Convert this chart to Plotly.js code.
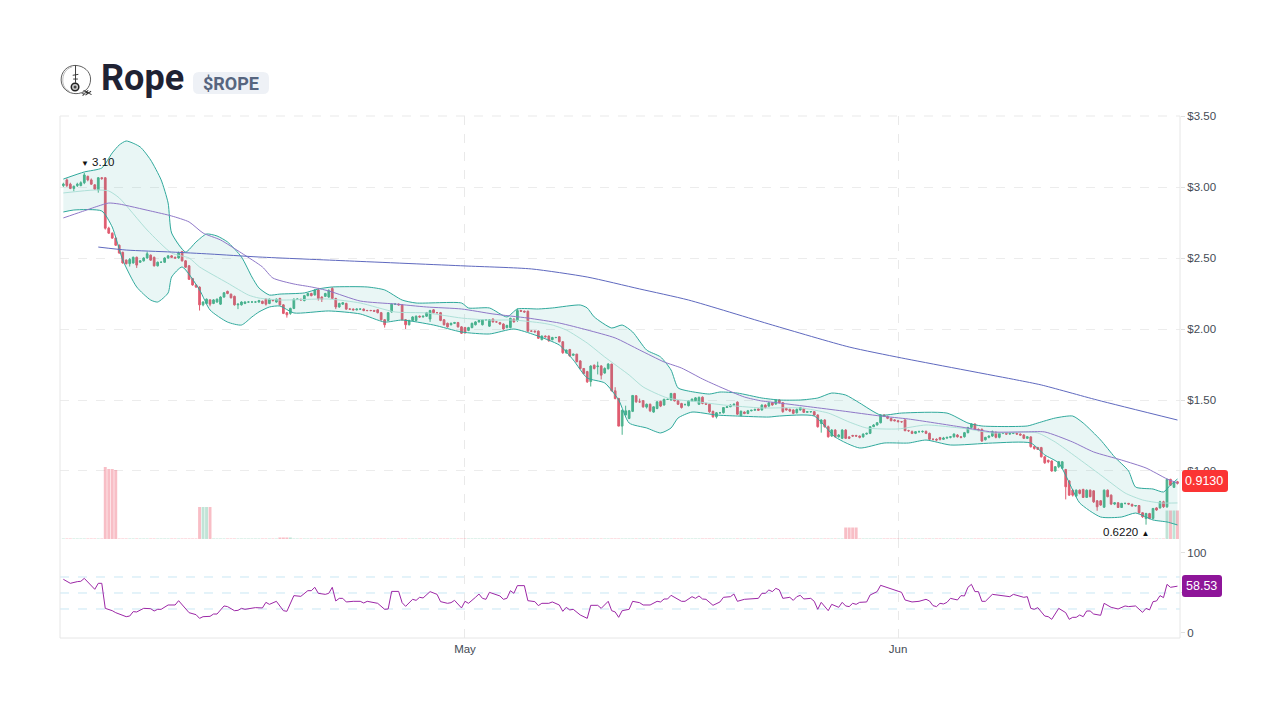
<!DOCTYPE html>
<html>
<head>
<meta charset="utf-8">
<script src="https://cdn.plot.ly/plotly-3.0.1.min.js"></script>
<style>html,body{margin:0;padding:0;background:#fff}#chart{width:1280px;height:720px}</style>
</head>
<body>
<div id="chart"></div>
<script>
// Candles: one every 6 hours starting 2 Apr 06:00
const startMs = Date.UTC(2024, 3, 2, 6);
const stepMs = 6 * 3600 * 1000;

const opens = [
3.01,3.05,3.02,2.99,3.01,3.01,3.03,3.075,3.05,3.015,
2.98,3.065,3.065,2.71,2.675,2.64,2.59,2.54,2.485,2.46,
2.465,2.505,2.47,2.48,2.50,2.52,2.505,2.445,2.47,2.47,
2.50,2.515,2.505,2.50,2.545,2.48,2.445,2.355,2.31,2.295,
2.17,2.18,2.205,2.18,2.19,2.175,2.225,2.265,2.245,2.23,
2.17,2.17,2.18,2.19,2.19,2.19,2.19,2.195,2.21,2.18,
2.205,2.19,2.215,2.17,2.115,2.11,2.145,2.21,2.21,2.20,
2.235,2.25,2.24,2.275,2.225,2.23,2.225,2.285,2.215,2.155,
2.175,2.18,2.14,2.14,2.135,2.14,2.14,2.13,2.13,2.13,
2.135,2.115,2.065,2.06,2.12,2.175,2.175,2.17,2.065,2.03,
2.06,2.06,2.09,2.085,2.09,2.07,2.135,2.115,2.115,2.065,
2.04,2.03,2.04,2.045,2.015,2.01,1.99,2.01,2.03,2.05,
2.03,2.065,2.02,2.07,2.05,2.045,2.035,2.01,2.01,2.07,
2.06,2.13,2.125,2.125,1.985,1.985,1.985,1.925,1.95,1.95,
1.925,1.94,1.945,1.91,1.833,1.855,1.815,1.823,1.775,1.722,
1.70,1.63,1.745,1.735,1.74,1.69,1.72,1.753,1.565,1.51,
1.316,1.395,1.37,1.42,1.53,1.487,1.495,1.45,1.47,1.415,
1.44,1.49,1.465,1.504,1.50,1.546,1.494,1.475,1.468,1.46,
1.494,1.495,1.47,1.52,1.476,1.47,1.42,1.382,1.41,1.41,
1.447,1.452,1.464,1.485,1.39,1.415,1.405,1.424,1.428,1.437,
1.43,1.464,1.457,1.48,1.472,1.50,1.481,1.44,1.434,1.43,
1.41,1.43,1.44,1.413,1.418,1.418,1.394,1.335,1.359,1.312,
1.246,1.288,1.241,1.23,1.288,1.24,1.25,1.25,1.246,1.24,
1.26,1.265,1.312,1.324,1.34,1.394,1.383,1.371,1.36,1.354,
1.347,1.36,1.284,1.277,1.265,1.277,1.277,1.279,1.265,1.223,
1.223,1.235,1.223,1.232,1.237,1.241,1.253,1.241,1.241,1.27,
1.307,1.331,1.293,1.293,1.22,1.237,1.246,1.27,1.237,1.265,
1.265,1.26,1.265,1.265,1.26,1.253,1.23,1.24,1.171,1.165,
1.165,1.10,1.075,1.07,1.00,1.03,1.02,1.01,0.93,0.865,
0.823,0.865,0.87,0.814,0.865,0.86,0.79,0.79,0.745,0.865,
0.83,0.767,0.776,0.743,0.772,0.772,0.765,0.753,0.757,0.706,
0.665,0.70,0.666,0.74,0.74,0.783,0.748,0.941,0.885,0.924];

const closes = [
3.02,3.01,2.99,3.005,3.02,3.03,3.085,3.05,3.02,2.985,
3.065,3.06,2.71,2.675,2.64,2.59,2.535,2.465,2.46,2.49,
2.505,2.45,2.48,2.50,2.53,2.485,2.445,2.47,2.47,2.50,
2.515,2.505,2.50,2.535,2.48,2.435,2.35,2.31,2.295,2.17,
2.19,2.21,2.175,2.205,2.21,2.225,2.255,2.25,2.22,2.17,
2.175,2.19,2.19,2.19,2.19,2.19,2.20,2.18,2.175,2.21,
2.20,2.21,2.17,2.11,2.10,2.145,2.21,2.21,2.205,2.235,
2.25,2.235,2.275,2.215,2.21,2.25,2.27,2.215,2.155,2.18,
2.185,2.14,2.14,2.135,2.14,2.14,2.13,2.13,2.13,2.125,
2.115,2.065,2.03,2.115,2.175,2.175,2.17,2.065,2.03,2.06,
2.085,2.09,2.085,2.09,2.115,2.13,2.115,2.115,2.06,2.03,
2.015,2.04,2.045,2.015,1.97,1.98,2.01,2.04,2.05,2.06,
2.065,2.065,2.065,2.05,2.05,2.035,2.00,2.025,2.075,2.05,
2.13,2.125,2.12,1.985,1.985,1.98,1.935,1.95,1.945,1.917,
1.94,1.94,1.91,1.833,1.852,1.81,1.823,1.77,1.722,1.687,
1.628,1.739,1.722,1.739,1.675,1.722,1.753,1.565,1.51,1.316,
1.428,1.424,1.424,1.532,1.487,1.487,1.452,1.47,1.424,1.452,
1.487,1.457,1.504,1.504,1.546,1.494,1.47,1.447,1.468,1.494,
1.506,1.515,1.518,1.476,1.47,1.417,1.382,1.41,1.41,1.447,
1.452,1.464,1.47,1.40,1.421,1.405,1.424,1.428,1.433,1.428,
1.464,1.447,1.48,1.465,1.50,1.481,1.418,1.43,1.422,1.406,
1.434,1.448,1.413,1.418,1.418,1.394,1.312,1.359,1.312,1.241,
1.288,1.241,1.253,1.288,1.23,1.23,1.246,1.246,1.237,1.26,
1.265,1.312,1.324,1.34,1.394,1.387,1.371,1.354,1.354,1.347,
1.347,1.284,1.284,1.265,1.277,1.277,1.279,1.265,1.223,1.223,
1.218,1.223,1.232,1.237,1.241,1.26,1.241,1.237,1.27,1.307,
1.331,1.293,1.288,1.211,1.237,1.246,1.277,1.237,1.265,1.265,
1.26,1.265,1.265,1.26,1.253,1.23,1.241,1.171,1.159,1.152,
1.10,1.058,1.065,1.00,1.03,1.065,1.065,0.889,0.83,0.83,
0.865,0.842,0.814,0.865,0.819,0.783,0.748,0.76,0.865,0.819,
0.767,0.776,0.743,0.772,0.772,0.767,0.753,0.757,0.706,0.678,
0.701,0.666,0.736,0.725,0.783,0.748,0.941,0.90,0.924,0.913];

const highs = [
3.03,3.06,3.03,3.01,3.03,3.04,3.10,3.08,3.06,3.02,
3.07,3.07,3.07,2.72,2.68,2.645,2.595,2.545,2.49,2.50,
2.51,2.51,2.485,2.505,2.545,2.525,2.51,2.475,2.475,2.505,
2.52,2.52,2.51,2.545,2.55,2.485,2.45,2.36,2.315,2.30,
2.195,2.215,2.21,2.21,2.215,2.23,2.26,2.27,2.25,2.235,
2.18,2.195,2.195,2.195,2.195,2.195,2.205,2.20,2.215,2.215,
2.21,2.215,2.22,2.175,2.12,2.15,2.215,2.215,2.21,2.24,
2.255,2.255,2.28,2.29,2.23,2.255,2.28,2.295,2.22,2.185,
2.19,2.185,2.145,2.145,2.145,2.145,2.145,2.135,2.135,2.135,
2.14,2.12,2.07,2.12,2.18,2.18,2.18,2.175,2.07,2.065,
2.09,2.095,2.095,2.095,2.12,2.135,2.14,2.12,2.12,2.07,
2.045,2.045,2.05,2.05,2.02,2.015,2.015,2.045,2.055,2.065,
2.07,2.07,2.07,2.075,2.055,2.05,2.04,2.03,2.08,2.075,
2.145,2.135,2.13,2.13,1.99,1.99,1.99,1.955,1.955,1.955,
1.945,1.945,1.95,1.915,1.855,1.86,1.825,1.825,1.78,1.725,
1.705,1.745,1.75,1.77,1.745,1.73,1.76,1.755,1.59,1.515,
1.43,1.46,1.43,1.535,1.535,1.51,1.50,1.475,1.475,1.455,
1.49,1.495,1.51,1.51,1.55,1.55,1.50,1.48,1.475,1.50,
1.51,1.52,1.525,1.525,1.48,1.475,1.425,1.415,1.415,1.45,
1.455,1.47,1.475,1.49,1.425,1.42,1.43,1.43,1.44,1.44,
1.47,1.47,1.485,1.485,1.505,1.505,1.485,1.445,1.44,1.435,
1.44,1.45,1.445,1.42,1.42,1.42,1.40,1.365,1.365,1.32,
1.295,1.295,1.26,1.295,1.295,1.245,1.255,1.255,1.25,1.265,
1.27,1.315,1.33,1.345,1.40,1.40,1.39,1.375,1.365,1.36,
1.35,1.365,1.29,1.285,1.28,1.285,1.285,1.285,1.27,1.23,
1.23,1.24,1.24,1.24,1.245,1.265,1.26,1.245,1.275,1.31,
1.335,1.335,1.30,1.30,1.24,1.25,1.285,1.28,1.27,1.27,
1.27,1.265,1.27,1.27,1.265,1.26,1.245,1.245,1.175,1.17,
1.17,1.105,1.08,1.075,1.035,1.07,1.07,1.015,0.935,0.87,
0.87,0.87,0.875,0.87,0.87,0.865,0.795,0.795,0.87,0.87,
0.835,0.78,0.78,0.775,0.775,0.775,0.77,0.76,0.76,0.71,
0.705,0.705,0.74,0.745,0.79,0.79,0.945,0.945,0.93,0.93];

const lows = [
3.00,3.00,2.985,2.97,3.00,3.005,3.02,3.04,3.015,2.98,
2.96,3.05,2.70,2.67,2.635,2.585,2.53,2.46,2.455,2.44,
2.46,2.43,2.465,2.475,2.495,2.48,2.44,2.44,2.465,2.465,
2.495,2.50,2.495,2.495,2.475,2.43,2.345,2.305,2.29,2.13,
2.16,2.175,2.16,2.175,2.185,2.17,2.22,2.245,2.215,2.165,
2.14,2.165,2.175,2.185,2.185,2.185,2.185,2.175,2.165,2.175,
2.195,2.185,2.165,2.105,2.08,2.10,2.14,2.205,2.20,2.195,
2.23,2.23,2.235,2.20,2.19,2.225,2.22,2.21,2.14,2.15,
2.17,2.135,2.135,2.13,2.13,2.135,2.125,2.125,2.125,2.12,
2.11,2.06,2.01,2.055,2.115,2.17,2.165,2.06,2.00,2.025,
2.055,2.055,2.08,2.08,2.085,2.05,2.11,2.11,2.055,2.025,
2.01,2.025,2.035,2.01,1.965,1.965,1.985,2.005,2.025,2.045,
2.025,2.06,2.015,2.045,2.045,2.03,1.995,2.005,2.005,2.045,
2.05,2.12,2.115,1.98,1.98,1.975,1.93,1.92,1.94,1.91,
1.92,1.935,1.905,1.825,1.825,1.805,1.81,1.765,1.715,1.68,
1.62,1.595,1.715,1.68,1.645,1.685,1.715,1.56,1.505,1.315,
1.255,1.39,1.365,1.415,1.48,1.48,1.445,1.44,1.415,1.41,
1.435,1.45,1.46,1.50,1.495,1.49,1.465,1.44,1.46,1.455,
1.49,1.49,1.465,1.47,1.465,1.41,1.375,1.37,1.405,1.405,
1.445,1.45,1.46,1.395,1.385,1.40,1.40,1.42,1.425,1.425,
1.425,1.44,1.45,1.46,1.465,1.475,1.41,1.425,1.415,1.40,
1.405,1.425,1.41,1.41,1.41,1.39,1.305,1.27,1.305,1.235,
1.24,1.235,1.235,1.225,1.225,1.225,1.24,1.24,1.23,1.235,
1.255,1.26,1.31,1.32,1.335,1.38,1.365,1.35,1.35,1.345,
1.34,1.28,1.275,1.26,1.26,1.27,1.27,1.26,1.22,1.215,
1.21,1.215,1.22,1.225,1.23,1.235,1.235,1.23,1.235,1.265,
1.30,1.29,1.28,1.205,1.215,1.23,1.24,1.23,1.23,1.26,
1.255,1.255,1.26,1.255,1.25,1.225,1.225,1.165,1.15,1.15,
1.095,1.05,1.055,0.995,0.995,1.02,1.015,0.80,0.825,0.82,
0.82,0.835,0.81,0.81,0.815,0.775,0.72,0.755,0.74,0.815,
0.76,0.76,0.74,0.74,0.765,0.76,0.75,0.75,0.70,0.67,
0.622,0.66,0.66,0.72,0.735,0.74,0.74,0.895,0.88,0.905];

const volumes = [
.5,.5,.5,.5,.5,.5,.5,.5,.5,.5,
.5,.5,72,70,70,69,.5,.5,.5,.5,
.5,.5,.5,.5,.5,.5,.5,.5,.5,.5,
.5,.5,.5,.5,.5,.5,.5,.5,.5,32,
32,32,32,.5,.5,.5,.5,.5,.5,.5,
.5,.5,.5,.5,.5,.5,.5,.5,.5,.5,
.5,.5,1.5,1.5,1.5,1.5,.5,.5,.5,.5,
.5,.5,.5,.5,.5,.5,.5,.5,.5,.5,
.5,.5,.5,.5,.5,.5,.5,.5,.5,.5,
.5,.5,.5,.5,.5,.5,.5,.5,.5,.5,
.5,.5,.5,.5,.5,.5,.5,.5,.5,.5,
.5,.5,.5,.5,.5,.5,.5,.5,.5,.5,
.5,.5,.5,.5,.5,.5,.5,.5,.5,.5,
.5,.5,.5,.5,.5,.5,.5,.5,.5,.5,
.5,.5,.5,.5,.5,.5,.5,.5,.5,.5,
.5,.5,.5,.5,.5,.5,.5,.5,.5,.5,
.5,.5,.5,.5,.5,.5,.5,.5,.5,.5,
.5,.5,.5,.5,.5,.5,.5,.5,.5,.5,
.5,.5,.5,.5,.5,.5,.5,.5,.5,.5,
.5,.5,.5,.5,.5,.5,.5,.5,.5,.5,
.5,.5,.5,.5,.5,.5,.5,.5,.5,.5,
.5,.5,.5,.5,.5,.5,.5,.5,.5,.5,
.5,.5,.5,.5,11.5,11.5,11.5,11.5,.5,.5,
.5,.5,.5,.5,.5,.5,.5,.5,.5,.5,
.5,.5,.5,.5,.5,.5,.5,.5,.5,.5,
.5,.5,.5,.5,.5,.5,.5,.5,.5,.5,
.5,.5,.5,.5,.5,.5,.5,.5,.5,.5,
.5,.5,.5,.5,.5,.5,.5,.5,.5,.5,
.5,.5,.5,.5,.5,.5,.5,.5,.5,.5,
.5,.5,.5,.5,.5,.5,.5,.5,.5,.5,
.5,.5,.5,.5,.5,.5,.5,.5,.5,.5,
.5,.5,.5,.5,.5,.5,28.5,28.5,28.5,28.5];

// Bollinger upper
const upperIdx = [0,6,11,14,16,18,22,25,28,30,31,35,38,41,44,47,51,54,56,59,62,69,73,77,87,92,97,101,114,116,122,127,130,136,140,148,150,152,157,160,163,167,171,174,176,179,185,188,193,200,205,211,216,220,224,228,234,240,253,259,263,276,279,284,289,292,297,301,305,307,312,315,317,319];
const upperVal = [3.056,3.106,3.134,3.24,3.296,3.324,3.282,3.19,3.05,2.887,2.676,2.542,2.613,2.669,2.655,2.613,2.507,2.366,2.289,2.239,2.246,2.254,2.282,2.296,2.296,2.275,2.204,2.183,2.183,2.148,2.148,2.085,2.141,2.141,2.148,2.169,2.148,2.085,2.007,2.028,1.979,1.852,1.803,1.711,1.585,1.563,1.542,1.556,1.549,1.514,1.5,1.5,1.514,1.549,1.535,1.479,1.394,1.408,1.408,1.338,1.317,1.317,1.338,1.373,1.387,1.338,1.218,1.099,1.0,0.887,0.873,0.852,0.901,0.944];
// Bollinger lower
const lowerIdx = [0,3,11,14,17,21,25,27,30,31,34,39,42,47,51,54,56,59,62,66,76,85,92,97,106,114,122,129,135,142,146,150,155,159,162,167,171,174,176,180,187,193,202,205,215,221,228,235,242,247,254,266,277,281,285,289,291,297,303,307,312,316,319];
const lowerVal = [2.824,2.838,2.831,2.718,2.486,2.296,2.204,2.19,2.254,2.366,2.437,2.275,2.134,2.049,2.028,2.085,2.12,2.155,2.162,2.113,2.127,2.106,2.049,2.063,2.028,1.979,1.965,2.0,1.958,1.887,1.782,1.655,1.62,1.5,1.338,1.303,1.268,1.303,1.373,1.415,1.394,1.387,1.38,1.387,1.387,1.239,1.162,1.197,1.197,1.218,1.183,1.197,1.197,1.113,1.056,0.866,0.775,0.676,0.676,0.704,0.655,0.641,0.62];
// Bollinger middle
const midIdx = [0,9,13,16,24,31,36,39,47,53,56,62,76,85,95,104,114,122,129,137,140,144,150,155,162,166,173,182,189,200,211,219,225,230,239,247,254,259,266,275,279,284,290,297,304,309,314,319];
const midVal = [2.958,2.979,2.972,2.923,2.697,2.535,2.5,2.437,2.324,2.239,2.218,2.204,2.211,2.183,2.12,2.113,2.077,2.063,2.063,2.042,2.028,1.993,1.901,1.803,1.676,1.592,1.514,1.486,1.465,1.444,1.444,1.408,1.345,1.303,1.296,1.324,1.31,1.296,1.268,1.275,1.268,1.204,1.099,0.972,0.845,0.796,0.775,0.775];
// Short moving average (purple)
const maShortIdx = [0,5,10,13,16,25,31,36,40,45,51,57,60,66,71,76,85,95,104,114,123,133,142,150,158,165,172,177,183,188,195,200,205,214,223,234,242,257,266,275,281,289,295,303,310,316,319];
const maShortVal = [2.782,2.824,2.866,2.887,2.88,2.831,2.796,2.754,2.676,2.627,2.535,2.437,2.359,2.317,2.296,2.268,2.197,2.176,2.155,2.141,2.106,2.077,2.042,1.993,1.937,1.852,1.768,1.725,1.648,1.592,1.521,1.493,1.479,1.451,1.423,1.387,1.366,1.31,1.275,1.275,1.275,1.204,1.134,1.077,1.021,0.944,0.915];
// Long moving average (blue)
const maLongIdx = [10,18,31,42,56,82,115,134,150,165,179,203,225,240,273,280,296,319];
const maLongVal = [2.577,2.556,2.542,2.528,2.507,2.479,2.444,2.423,2.366,2.282,2.204,2.028,1.873,1.796,1.641,1.606,1.5,1.359];
// RSI
const rsiIdx = [0,2,4,5,6,9,10,11,12,14,15,18,19,20,21,23,25,26,27,28,30,32,33,36,38,39,40,42,43,44,46,47,49,50,51,52,55,57,58,59,61,63,64,65,66,68,70,71,72,73,75,76,77,78,79,80,81,83,85,86,87,90,92,93,94,96,97,98,100,101,102,103,105,107,108,110,111,112,114,115,116,118,119,120,121,122,125,126,127,128,129,130,132,133,135,136,137,139,140,142,143,144,145,146,148,150,151,153,154,156,157,158,159,160,162,163,165,166,168,170,171,172,173,174,177,178,180,181,182,183,184,186,188,189,191,192,193,195,198,199,200,201,202,203,204,205,206,208,209,210,211,212,214,215,216,217,219,220,222,223,224,225,226,227,228,230,231,233,234,236,240,241,243,245,247,248,249,250,251,252,253,254,256,257,258,259,260,261,262,263,264,266,269,271,272,274,275,276,277,278,279,281,282,283,285,287,288,289,290,291,292,293,294,295,297,298,300,302,304,305,307,309,310,311,312,313,314,315,316,317,318,319];
const rsiVal = [67.1,62.1,64.2,64.6,68.3,54.6,62.1,62.1,30.8,27.9,25.4,20.4,21.2,26.7,26.3,30.8,30.4,27.5,29.6,29.6,35,35,40.4,25.4,22.9,18.3,20.4,20.8,23.7,23.7,33.8,33,27.9,28.3,30.8,29.6,31.7,31.3,38.3,35.8,39.6,27.9,27.1,37.1,46.7,45.8,52.9,52.9,57.1,49.6,48.3,49.6,57.1,40,43.3,43.3,38.8,39.6,39.6,37.5,39.6,37.1,29.6,30,52,52,37.9,33.3,42.1,40.8,44.6,43.8,51.7,48.3,39.2,37.1,37.9,40.8,31.3,39.6,37.1,44.6,48.7,43.3,42.1,50.8,46.3,42.1,43.3,52.9,49.6,59.2,59.2,40.4,39.2,34.2,37.1,37.1,38.8,35,27.1,32.1,28.8,29.6,22.5,18.3,34.6,34.6,30.8,39.6,27.9,26.3,19.6,27.9,29.6,39.6,37.9,35,35,39.6,38.8,42.5,42.5,47.1,39.6,39.6,45.4,43.3,46.3,42.5,42.1,34.6,38.8,44.6,45.4,48.7,39.6,42.1,43.3,43.3,49.6,49.6,53.8,51.7,55.8,53.8,43.3,44.6,40.8,45.4,47.1,42.5,43.3,39.6,29.6,38.3,27.9,35.8,32.1,38.3,33.8,33,37.1,35.8,38.3,38.8,47.5,51.7,59.6,56.7,50.8,41.3,38.8,39.6,42.1,40,34.2,33,37.1,36.3,38.3,43.3,41.3,46.7,46.3,57.1,60.8,51.7,51.7,39.6,39.6,48.3,46.3,45.4,48.3,46.3,44.6,45.4,30.8,29.6,31.7,21.2,20.4,17.1,30.8,25.4,17.1,19.6,19.6,22.5,20.4,27.5,27.5,23.7,22.1,37.1,32.1,30,33.8,33,33.8,25.8,30.8,28.8,39.2,40,46.7,44.2,60.8,57.1,58,58.53];

const priceTicks = [1,1.5,2,2.5,3,3.5];
const priceTickLabels = ['$1.00','$1.50','$2.00','$2.50','$3.00','$3.50'];
const rsiTicks = [0,50,100];
const rsiGuides = [30,50,70];
const monthTicks = ['2024-05-01','2024-06-01'];
const monthLabels = ['May','Jun'];

const dateAt = i => new Date(startMs + i * stepMs).toISOString();
const dates = closes.map((_, i) => dateAt(i));
const datesFor = idx => idx.map(dateAt);

// pixel helpers for page furniture outside the plot
const px = x => (x - 60) / 1120;
const py = y => (638 - y) / 522;
function roundRect(x0, y0, x1, y1, r) {
  const X = px, Y = py;
  return `M ${X(x0 + r)} ${Y(y0)} L ${X(x1 - r)} ${Y(y0)} Q ${X(x1)} ${Y(y0)} ${X(x1)} ${Y(y0 + r)} ` +
         `L ${X(x1)} ${Y(y1 - r)} Q ${X(x1)} ${Y(y1)} ${X(x1 - r)} ${Y(y1)} L ${X(x0 + r)} ${Y(y1)} ` +
         `Q ${X(x0)} ${Y(y1)} ${X(x0)} ${Y(y1 - r)} L ${X(x0)} ${Y(y0 + r)} Q ${X(x0)} ${Y(y0)} ${X(x0 + r)} ${Y(y0)} Z`;
}

const GREEN = '#4db38d', RED = '#e05c70';
const PLAIN = {hoverinfo: 'skip', showlegend: false};
const smooth = (color, width) => ({color: color, width: width, shape: 'spline', smoothing: 0.6});

const traces = [
  Object.assign({type: 'bar', x: dates, y: volumes, xaxis: 'x', yaxis: 'y',
    marker: {color: closes.map((c, i) => c >= opens[i] ? 'rgba(77,179,141,0.35)' : 'rgba(238,100,120,0.42)'), line: {width: 0}}}, PLAIN),
  Object.assign({type: 'scatter', mode: 'lines', xaxis: 'x', yaxis: 'y2',
    x: datesFor(upperIdx).concat(datesFor(lowerIdx).reverse()),
    y: upperVal.concat(lowerVal.slice().reverse()),
    fill: 'toself', fillcolor: 'rgba(38,166,154,0.10)', line: {width: 0}}, PLAIN),
  Object.assign({type: 'candlestick', x: dates, open: opens, high: highs, low: lows, close: closes, xaxis: 'x', yaxis: 'y2',
    whiskerwidth: 0,
    increasing: {line: {color: GREEN, width: 1}, fillcolor: GREEN},
    decreasing: {line: {color: RED, width: 1}, fillcolor: RED}}, PLAIN),
  Object.assign({type: 'scatter', mode: 'lines', x: datesFor(midIdx), y: midVal, xaxis: 'x', yaxis: 'y2',
    line: smooth('#aee0d8', 1)}, PLAIN),
  Object.assign({type: 'scatter', mode: 'lines', x: datesFor(upperIdx), y: upperVal, xaxis: 'x', yaxis: 'y2',
    line: smooth('#2fa99c', 1)}, PLAIN),
  Object.assign({type: 'scatter', mode: 'lines', x: datesFor(lowerIdx), y: lowerVal, xaxis: 'x', yaxis: 'y2',
    line: smooth('#2fa99c', 1)}, PLAIN),
  Object.assign({type: 'scatter', mode: 'lines', x: datesFor(maShortIdx), y: maShortVal, xaxis: 'x', yaxis: 'y2',
    line: smooth('#8f78c8', 1)}, PLAIN),
  Object.assign({type: 'scatter', mode: 'lines', x: datesFor(maLongIdx), y: maLongVal, xaxis: 'x', yaxis: 'y2',
    line: smooth('#5f69bf', 1)}, PLAIN),
  Object.assign({type: 'scatter', mode: 'lines', x: datesFor(rsiIdx), y: rsiVal, xaxis: 'x', yaxis: 'y3',
    line: {color: '#9c27a6', width: 1}}, PLAIN)
];

const logo = 'data:image/svg+xml;utf8,' + encodeURIComponent(
  '<svg xmlns="http://www.w3.org/2000/svg" viewBox="0 0 34 34">' +
  '<path d="M16 1.5 C8 1.5 1 8 1.2 17 C1.4 26 9 31.5 17 31.5 C25 31.5 32.5 26 32.5 16 C32.5 8 25 1.5 16 1.5 Z" fill="#fff" stroke="#555" stroke-width="1"/>' +
  '<path d="M13 3 C6 5 2.5 11 3 19 C3.5 24 6 27 10 29" fill="none" stroke="#888" stroke-width="0.6"/>' +
  '<path d="M16.5 1.5 L16.5 20 M13.5 12 L19.5 11 M14 16 L19 16" stroke="#333" stroke-width="1" fill="none"/>' +
  '<circle cx="16" cy="24.5" r="4" fill="#ccc" stroke="#222" stroke-width="1.6"/>' +
  '<circle cx="16" cy="24.5" r="1.6" fill="#444"/>' +
  '<path d="M23 31 L32 30 M25 28 L33.5 32.5 M24 33.5 L30 28 M27 33 L33 29" stroke="#333" stroke-width="1.1"/>' +
  '</svg>');

const tickFont = {family: '"Liberation Sans", Arial, sans-serif', size: 11.5, color: '#444b55'};

const layout = {
  width: 1280, height: 720,
  margin: {l: 60, r: 100, t: 116, b: 82, pad: 0},
  paper_bgcolor: '#fff', plot_bgcolor: '#fff',
  showlegend: false, hovermode: false, dragmode: false,
  bargap: 0.16, boxgap: 0.3,
  xaxis: {
    type: 'date', anchor: 'y3',
    range: ['2024-04-02 00:15', '2024-06-21 04:20'],
    rangeslider: {visible: false},
    tickmode: 'array', tickvals: monthTicks, ticktext: monthLabels,
    ticks: '', tickfont: tickFont, ticklabelstandoff: 2, showline: false, zeroline: false,
    showgrid: true, gridcolor: '#e9e9e9', griddash: 'dash', gridwidth: 1
  },
  yaxis: {domain: [0.18966, 1], range: [0, 423], visible: false, fixedrange: true},
  yaxis2: {
    domain: [0.18966, 1], range: [0.5211, 3.5], overlaying: 'y', side: 'right', anchor: 'x',
    tickmode: 'array', tickvals: priceTicks, ticktext: priceTickLabels,
    ticks: 'outside', ticklen: 4, tickcolor: '#e0e0e0', tickfont: tickFont,
    showgrid: true, gridcolor: '#ececec', griddash: 'dash', zeroline: false, showline: false
  },
  yaxis3: {
    domain: [0, 0.18966], range: [-6.25, 117.5], side: 'right', anchor: 'x',
    tickmode: 'array', tickvals: rsiTicks,
    ticks: 'outside', ticklen: 4, tickcolor: '#e0e0e0', tickfont: tickFont,
    showgrid: false, zeroline: false, showline: false
  },
  images: [{source: logo, xref: 'paper', yref: 'paper', x: px(60), y: py(64), sizex: 32 / 1120, sizey: 32 / 522,
            xanchor: 'left', yanchor: 'top', sizing: 'stretch', layer: 'above'}],
  shapes: [
    // pane frame
    {type: 'line', xref: 'paper', yref: 'paper', x0: 0, x1: 0, y0: 0, y1: 1, line: {color: '#e6e6e6', width: 1}},
    {type: 'line', xref: 'paper', yref: 'paper', x0: 1, x1: 1, y0: 0, y1: 1, line: {color: '#e6e6e6', width: 1}},
    {type: 'line', xref: 'paper', yref: 'paper', x0: 0, x1: 1, y0: 0, y1: 0, line: {color: '#e6e6e6', width: 1}},
    {type: 'line', xref: 'paper', yref: 'paper', x0: 0, x1: 1, y0: 1, y1: 1, line: {color: '#e9e9e9', width: 1, dash: 'dash'}},
    // RSI guides
    ...rsiGuides.map(v => ({type: 'line', xref: 'paper', yref: 'y3', x0: 0, x1: 1, y0: v, y1: v, layer: 'below',
                            line: {color: '#c9e7f4', width: 1, dash: 'dash'}})),
    // ticker badge
    {type: 'path', xref: 'paper', yref: 'paper', path: roundRect(193, 72, 269, 94, 6), fillcolor: '#eef1f6', line: {width: 0}},
    // last price and RSI flags
    {type: 'path', xref: 'paper', yref: 'paper', path: roundRect(1182, 470, 1228, 492, 3), fillcolor: '#fb3434', line: {width: 0}},
    {type: 'path', xref: 'paper', yref: 'paper', path: roundRect(1182, 575, 1222, 597, 3), fillcolor: '#8e1599', line: {width: 0}}
  ],
  annotations: [
    {xref: 'paper', yref: 'paper', x: px(99), y: py(78), text: 'Rope', showarrow: false, xanchor: 'left', yanchor: 'middle',
     font: {family: 'Roboto, sans-serif', size: 36, color: '#1f2233', weight: 700}},
    {xref: 'paper', yref: 'paper', x: px(231), y: py(84), text: '$ROPE', showarrow: false, xanchor: 'center', yanchor: 'middle',
     font: {family: 'Roboto, sans-serif', size: 18, color: '#56657f', weight: 700}},
    {xref: 'x', yref: 'y2', x: dates[6], y: highs[6], text: '<span style="font-size:8px">▼</span> 3.10', showarrow: false, xanchor: 'left', yanchor: 'bottom',
     xshift: -5, yshift: 3, font: {family: '"Liberation Sans", Arial, sans-serif', size: 11.5, color: '#111'}},
    {xref: 'x', yref: 'y2', x: dates[310], y: lows[310], text: '0.6220 <span style="font-size:8px">▲</span>', showarrow: false, xanchor: 'right', yanchor: 'top',
     xshift: 5, yshift: 1, font: {family: '"Liberation Sans", Arial, sans-serif', size: 11.5, color: '#111'}},
    {xref: 'paper', yref: 'paper', x: px(1204), y: py(481), text: closes[319].toFixed(4), showarrow: false, xanchor: 'center', yanchor: 'middle',
     font: {family: '"Liberation Sans", Arial, sans-serif', size: 12.5, color: '#fff'}},
    {xref: 'paper', yref: 'paper', x: px(1201), y: py(586), text: rsiVal[rsiVal.length - 1].toFixed(2), showarrow: false, xanchor: 'center', yanchor: 'middle',
     font: {family: '"Liberation Sans", Arial, sans-serif', size: 12.5, color: '#fff'}}
  ]
};

Plotly.newPlot('chart', traces, layout, {displayModeBar: false, staticPlot: true});
</script>
</body>
</html>
